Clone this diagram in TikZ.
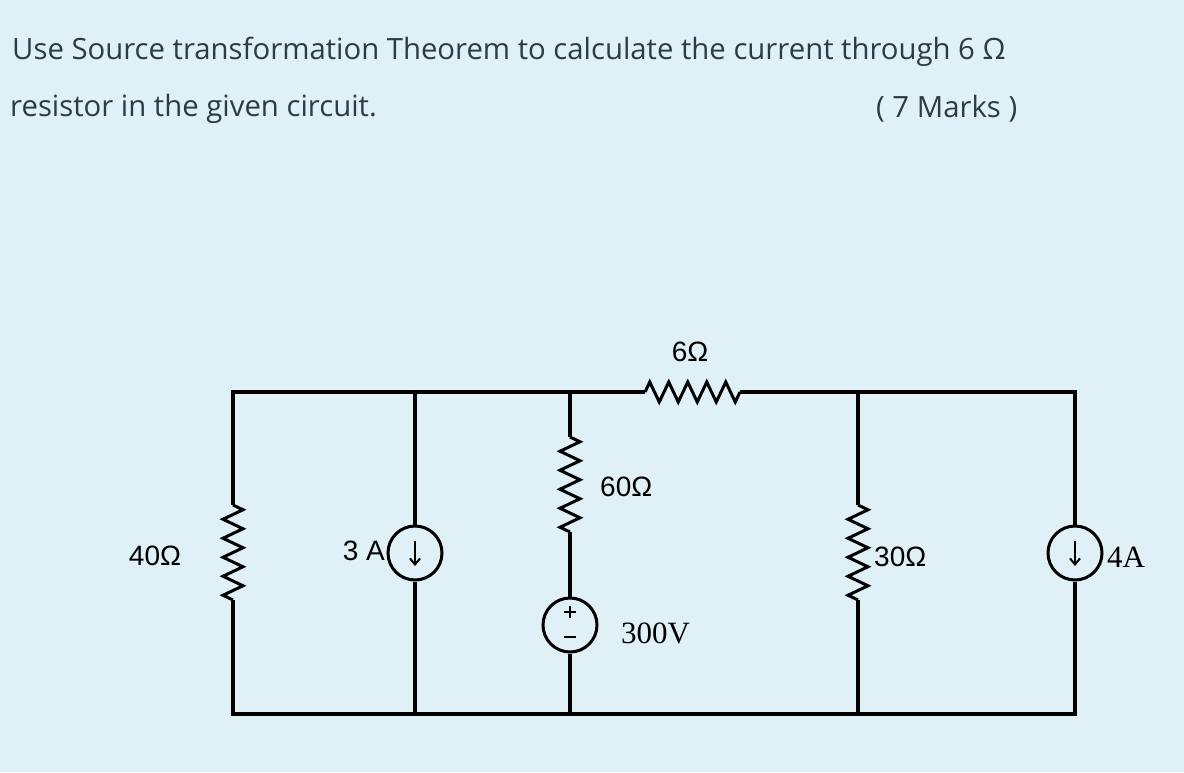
\documentclass[tikz,border=0pt]{standalone}
\usepackage{fontspec}
\setmainfont{Liberation Sans}
\newfontfamily\titlefont{Open Sans}
\newfontfamily\serifl{Liberation Serif}
\usetikzlibrary{decorations.pathmorphing,arrows.meta}
\definecolor{bg}{HTML}{DFF0F7}
\definecolor{tx}{HTML}{2E3A44}
\tikzset{
 wire/.style={line width=3.2pt},
 res/.style={line width=3pt,decorate,decoration={zigzag,amplitude=10pt,segment length=19pt}},
 src/.style={circle,draw,line width=3pt,minimum size=54pt,inner sep=0pt},
 lbl/.style={font=\fontsize{28}{30}\selectfont},
 ttl/.style={font=\titlefont\fontsize{29.3}{32}\selectfont,text=tx,anchor=west,inner sep=0pt}
}
\begin{document}
\begin{tikzpicture}[x=1pt,y=-1pt]
\fill[bg] (0,0) rectangle (1184,772);
\useasboundingbox (0,0) rectangle (1184,772);
\node[ttl] (t1) at (12,52) {Use Source transformation Theorem to calculate the current through 6 Ω};
\node[ttl] (t2) at (10,109) {resistor in the given circuit.};
\node[ttl] (t3) at (876,109) {( 7 Marks )};
% nodes
\coordinate (TL) at (233,392); \coordinate (BL) at (233,714);
\coordinate (T2) at (415,392); \coordinate (B2) at (415,714);
\coordinate (T3) at (570,392); \coordinate (B3) at (570,714);
\coordinate (T4) at (858,392); \coordinate (B4) at (858,714);
\coordinate (TR) at (1075,392); \coordinate (BR) at (1075,714);
\coordinate (r1a) at (233,505); \coordinate (r1b) at (233,600);
\coordinate (r3a) at (570,437); \coordinate (r3b) at (570,532);
\coordinate (r6a) at (645,392); \coordinate (r6b) at (740,392);
\coordinate (r4a) at (858,505); \coordinate (r4b) at (858,600);
\node[src] (s3) at (415,553) {};
\node[src] (sv) at (570,625) {};
\node[src] (s4) at (1075,553) {};
% wires
\draw[wire] (r1a) -- (TL) -- (T2) -- (T3) -- (r6a);
\draw[wire] (r6b) -- (T4) -- (TR) -- (s4.north);
\draw[wire] (r1b) -- (BL) -- (BR) -- (s4.south);
\draw[wire] (T2) -- (s3.north); \draw[wire] (s3.south) -- (B2);
\draw[wire] (T3) -- (r3a); \draw[wire] (r3b) -- (sv.north); \draw[wire] (sv.south) -- (B3);
\draw[wire] (T4) -- (r4a); \draw[wire] (r4b) -- (B4);
% resistors
\draw[res] (r1a) -- (r1b);
\draw[res] (r3a) -- (r3b);
\draw[res] (r6a) -- (r6b);
\draw[res] (r4a) -- (r4b);
% arrows and signs
\draw[line width=2pt,-{Straight Barb[length=6pt,width=10pt]}] (415,541) -- (415,566);
\draw[line width=2pt,-{Straight Barb[length=6pt,width=10pt]}] (1075,541) -- (1075,566);
\draw[line width=2pt] (564,612) -- (576,612) (570,606) -- (570,618);
\draw[line width=2pt] (564,637) -- (576,637);
% labels
\node[lbl] (l6) at (690,352) {6Ω};
\node[lbl,anchor=west,inner sep=0pt] (l60) at (600,487) {60Ω};
\node[lbl] (l40) at (155,556) {40Ω};
\node[lbl,anchor=east,inner sep=0pt] (l3) at (385,551) {3 A};
\node[lbl,anchor=west,inner sep=0pt] (l30) at (874,557) {30Ω};
\node[anchor=west,inner sep=0pt,font=\serifl\fontsize{31}{32}\selectfont] (l4) at (1107,557) {4A};
\node[anchor=west,inner sep=0pt,font=\serifl\fontsize{31}{32}\selectfont] (l300) at (621,633) {300V};
\end{tikzpicture}
\end{document}
